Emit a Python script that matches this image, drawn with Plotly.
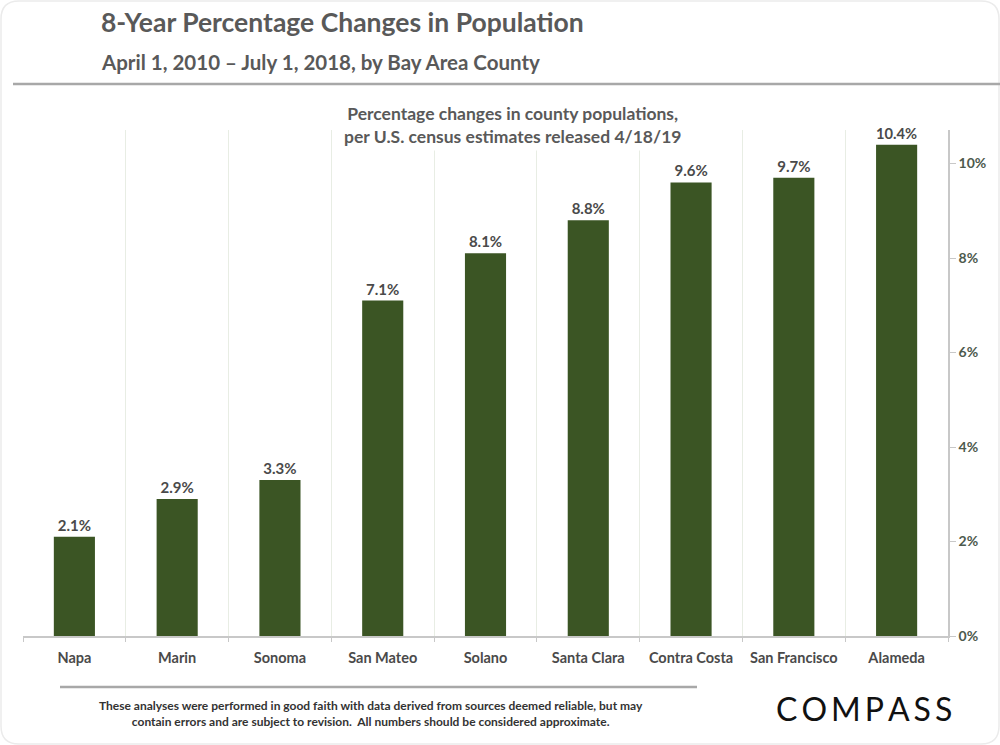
import plotly.graph_objects as go

counties = ["Napa", "Marin", "Sonoma", "San Mateo", "Solano", "Santa Clara",
            "Contra Costa", "San Francisco", "Alameda"]
pct_change = [2.1, 2.9, 3.3, 7.1, 8.1, 8.8, 9.6, 9.7, 10.4]
y_ticks = [0, 2, 4, 6, 8, 10]

BAR = "#3b5524"
TXT = "#595959"
FONT = "Lato, 'Open Sans', sans-serif"

W, H = 1000, 745
L, R, T, B = 23, 52, 130, 109
PW, PH = W - L - R, H - T - B


def px_x(px):
    return (px - L) / PW


def px_y(py):
    return (H - B - py) / PH


xs = list(range(len(counties)))

fig = go.Figure()
fig.add_trace(go.Bar(
    x=xs, y=pct_change, width=0.4,
    marker=dict(color=BAR, line=dict(width=0)),
    text=[f"{v:.1f}%" for v in pct_change],
    textposition="outside", cliponaxis=False,
    textfont=dict(family=FONT, size=15, color="#4a4a4a", weight="bold"),
    hoverinfo="skip", showlegend=False,
))
fig.add_trace(go.Scatter(x=[-0.5, len(counties) - 0.5], y=[0, 0], xaxis="x2",
                         mode="markers", marker=dict(opacity=0), showlegend=False,
                         hoverinfo="skip"))

fig.update_layout(
    width=W, height=H,
    margin=dict(l=L, r=R, t=T, b=B),
    paper_bgcolor="white", plot_bgcolor="rgba(0,0,0,0)",
    font=dict(family=FONT, color=TXT),
    xaxis=dict(
        range=[-0.5, len(counties) - 0.5], tickvals=xs, ticktext=counties,
        showgrid=False, zeroline=False, showline=True, linecolor="#c8c8c8",
        linewidth=1.5, ticks="", ticklabelstandoff=8,
        tickfont=dict(family=FONT, size=14.5, color="#4a4a4a", weight="bold"),
        fixedrange=True,
    ),
    xaxis2=dict(
        overlaying="x", matches="x", range=[-0.5, len(counties) - 0.5],
        tickvals=[i - 0.5 for i in range(len(counties) + 1)],
        showticklabels=False, showgrid=True, gridcolor="#e8ede4", gridwidth=1,
        ticks="outside", ticklen=5, tickcolor="#c8c8c8", side="bottom",
        zeroline=False, showline=False,
    ),
    yaxis=dict(
        side="right", range=[0, 10.71], tickvals=y_ticks,
        ticktext=[f"{v}%" for v in y_ticks],
        showgrid=False, zeroline=False, showline=True, linecolor="#c8c8c8",
        linewidth=1.5, ticks="outside", ticklen=6, tickcolor="#c8c8c8",
        tickfont=dict(family=FONT, size=14, color="#4d5a4d", weight="bold"),
    ),
    bargap=0.6,
)

annotations = [
    dict(text="<b>8-Year Percentage Changes in Population</b>",
         x=px_x(99), y=px_y(22), xanchor="left", yanchor="middle",
         font=dict(size=26.5, color=TXT)),
    dict(text="<b>April 1, 2010 – July 1, 2018, by Bay Area County</b>",
         x=px_x(99), y=px_y(62), xanchor="left", yanchor="middle",
         font=dict(size=20.5, color=TXT)),
    dict(text="<b>Percentage changes in county populations,<br>per U.S. census estimates released 4/18/19</b>",
         x=px_x(512), y=px_y(125), xanchor="center", yanchor="middle",
         font=dict(size=17.5, color=TXT), bgcolor="white", borderpad=3),
    dict(text="<b>These analyses were performed in good faith with data derived from sources deemed reliable, but may<br>contain errors and are subject to revision.  All numbers should be considered approximate.</b>",
         x=px_x(371), y=px_y(713), xanchor="center", yanchor="middle",
         font=dict(size=12, color="#333333")),
    dict(text="C\u2009O\u2009M\u2009P\u2009A\u2009S\u2009S",
         x=px_x(864), y=px_y(708), xanchor="center", yanchor="middle",
         font=dict(size=32, color="#111111", family="Lato, sans-serif")),
]
for a in annotations:
    a.update(xref="paper", yref="paper", showarrow=False)
fig.update_layout(annotations=annotations)

# rounded outer frame
x0, x1, y0, y1, r = px_x(1), px_x(999), px_y(744), px_y(1), 18
rx, ry = r / PW, r / PH
frame = (f"M {x0+rx},{y1} L {x1-rx},{y1} Q {x1},{y1} {x1},{y1-ry} "
         f"L {x1},{y0+ry} Q {x1},{y0} {x1-rx},{y0} L {x0+rx},{y0} "
         f"Q {x0},{y0} {x0},{y0+ry} L {x0},{y1-ry} Q {x0},{y1} {x0+rx},{y1} Z")

shapes = [
    dict(type="path", path=frame, line=dict(color="#ebebeb", width=1.5)),
    dict(type="line", x0=px_x(13), x1=px_x(1000), y0=px_y(84), y1=px_y(84),
         line=dict(color="#a8a8a8", width=2.5)),
    dict(type="line", x0=px_x(60), x1=px_x(697), y0=px_y(687), y1=px_y(687),
         line=dict(color="#a8a8a8", width=2.5)),
]
for s in shapes:
    s.update(xref="paper", yref="paper")
fig.update_layout(shapes=shapes)

fig.write_html("out.html")
